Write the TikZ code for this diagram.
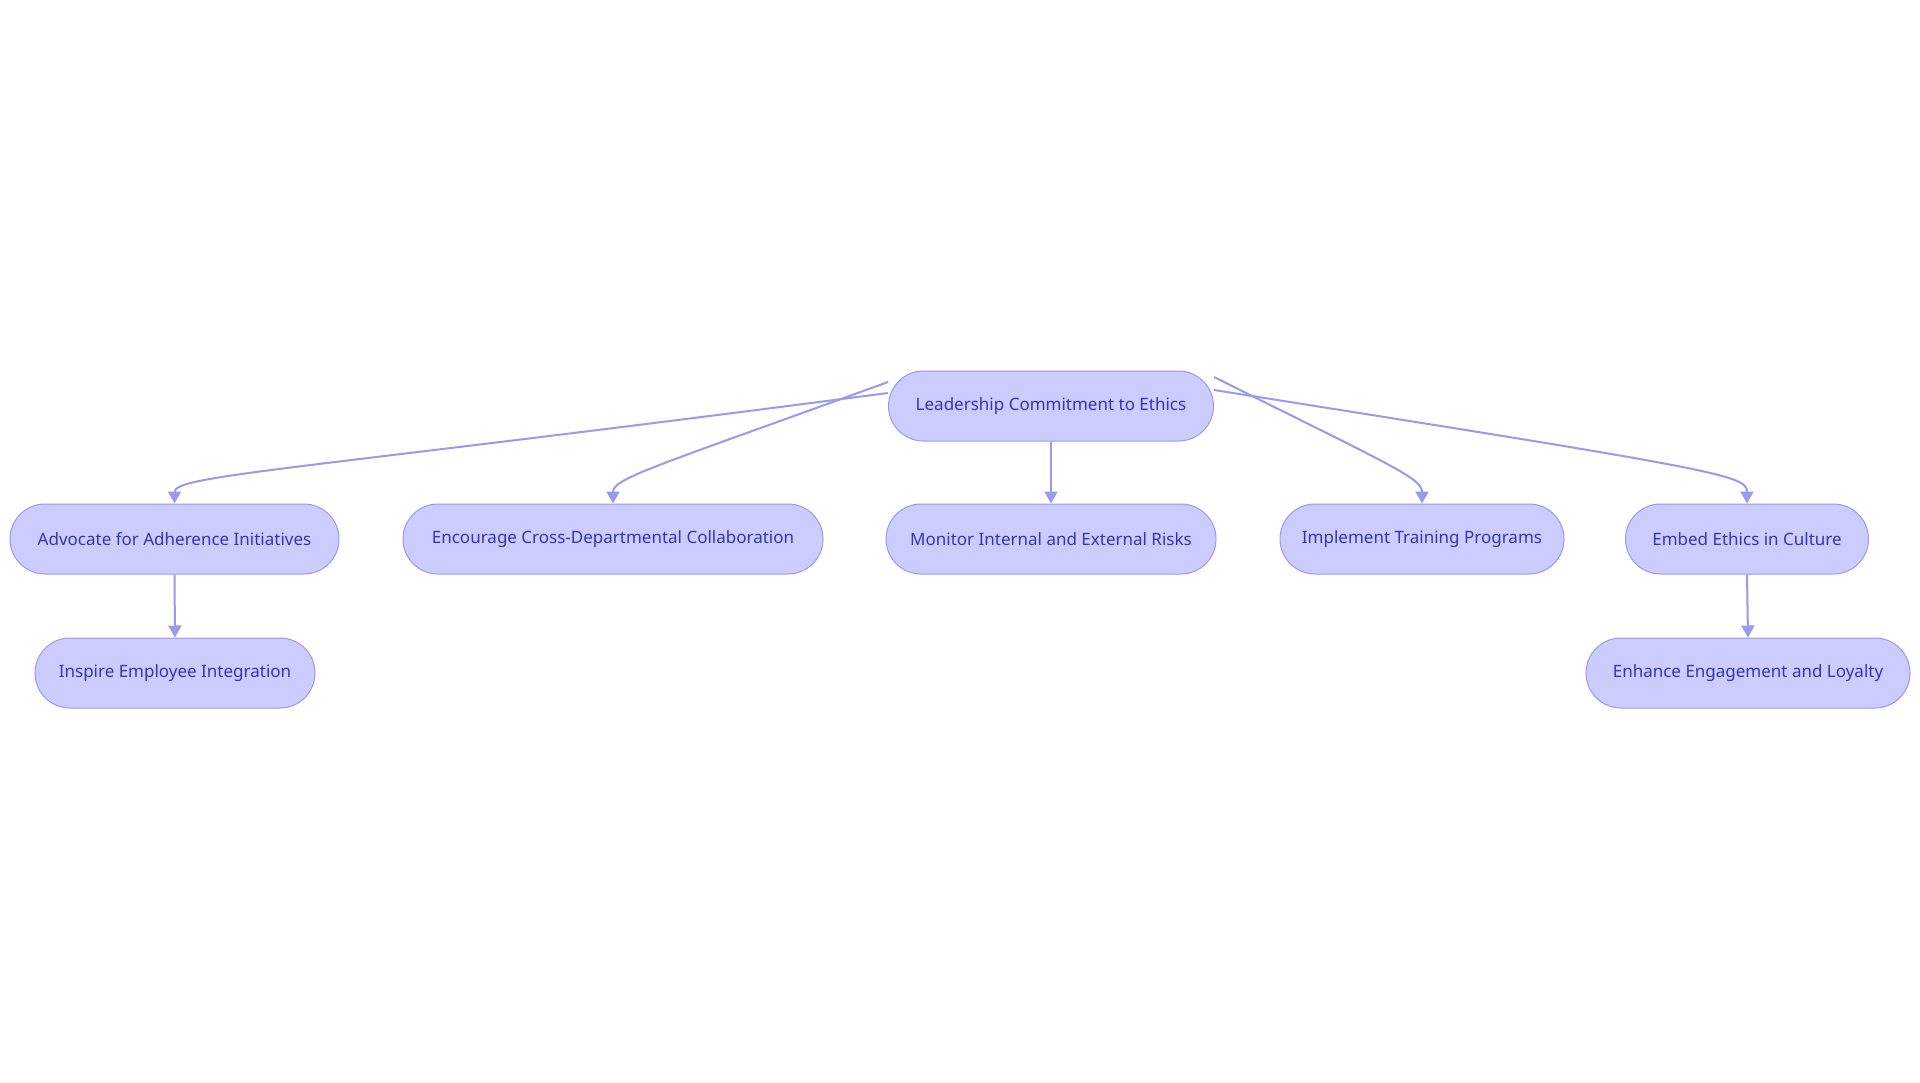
\documentclass[tikz,border=0pt]{standalone}
\usepackage{fontspec}
\setmainfont{Noto Sans}
\usetikzlibrary{arrows.meta}
\definecolor{nfill}{HTML}{CCCCFF}
\definecolor{nline}{HTML}{9999EE}
\definecolor{ntext}{HTML}{3333BB}
\begin{document}
\begin{tikzpicture}[x=1pt,y=-1pt,
  box/.style={draw=nline,fill=nfill,rounded corners=35pt,minimum height=70pt,text=ntext,font=\fontsize{17}{20}\selectfont,inner sep=0pt,line width=1pt},
  conn/.style={draw=nline,line width=2pt,-{Triangle[length=12pt,width=13pt]}}]
\useasboundingbox[fill=white] (0,0) rectangle (1920,1083);
\node[box,minimum width=325pt] (root) at (1051,406) {Leadership Commitment to Ethics};
\node[box,minimum width=329pt] (a) at (174.5,539) {Advocate for Adherence Initiatives};
\node[box,minimum width=420pt] (b) at (613,539) {Encourage Cross-Departmental Collaboration};
\node[box,minimum width=330pt] (c) at (1051,539) {Monitor Internal and External Risks};
\node[box,minimum width=284pt] (d) at (1422,539) {Implement Training Programs};
\node[box,minimum width=243pt] (e) at (1747,539) {Embed Ethics in Culture};
\node[box,minimum width=280pt] (f) at (175,673) {Inspire Employee Integration};
\node[box,minimum width=324pt] (g) at (1748,673) {Enhance Engagement and Loyalty};
\coordinate (r1) at ([yshift=13pt]root.west);
\coordinate (r2) at ([yshift=24pt]root.west);
\coordinate (r3) at ([yshift=16pt]root.east);
\coordinate (r4) at ([yshift=29pt]root.east);
\draw[conn] (r1) .. controls (300,470) and (174.5,475) .. (a.north);
\draw[conn] (r2) .. controls (660,465) and (613,478) .. (b.north);
\draw[conn] (root.south) -- (c.north);
\draw[conn] (r4) .. controls (1390,465) and (1422,478) .. (d.north);
\draw[conn] (r3) .. controls (1720,470) and (1747,475) .. (e.north);
\draw[conn] (a.south) -- (f.north);
\draw[conn] (e.south) -- (g.north);
\end{tikzpicture}
\end{document}
